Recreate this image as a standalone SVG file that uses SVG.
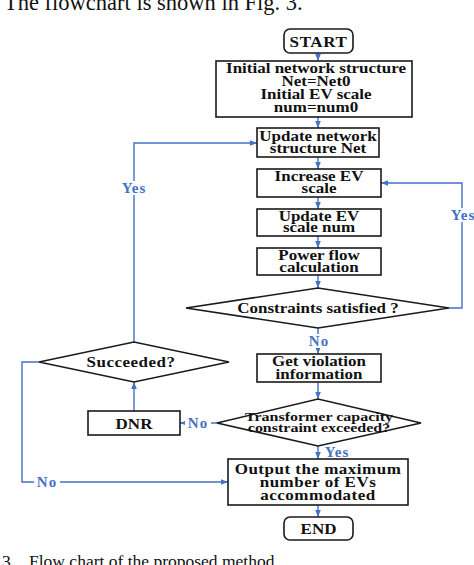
<svg xmlns="http://www.w3.org/2000/svg" width="474" height="565" viewBox="0 0 474 565">
<defs>
<style>
.box{fill:#fff;stroke:#1a1a1a;stroke-width:1.6}
.t{font-family:"Liberation Serif","Times New Roman",serif;font-weight:bold;font-size:17px;fill:#111;text-anchor:middle}
.t2{font-size:16px}
.lbl{font-family:"Liberation Serif","Times New Roman",serif;font-weight:bold;font-size:15px;fill:#4472C4;text-anchor:middle;letter-spacing:1px}
.bg{fill:#fff}
.c{fill:none;stroke:#4472C4;stroke-width:1.4}
.cap{font-family:"Liberation Serif","Times New Roman",serif;font-size:22.5px;fill:#111}
.cap2{font-size:17.5px}
</style>
<marker id="ah" viewBox="0 0 10 10" refX="10" refY="5" markerWidth="7" markerHeight="7" orient="auto" markerUnits="userSpaceOnUse">
<path d="M0,1 L10,5 L0,9 z" fill="#4472C4"/>
</marker>
</defs>
<rect width="474" height="565" fill="#fff"/>
<text class="cap" x="4" y="10">The flowchart is shown in Fig. 3.</text>
<text class="cap cap2" x="2" y="567">3</text>
<text class="cap cap2" x="29" y="567">Flow chart of the proposed method</text>

<g id="connectors">
<path class="c" d="M318,53 V61" marker-end="url(#ah)"/>
<path class="c" d="M318,117 V128" marker-end="url(#ah)"/>
<path class="c" d="M318,157 V169" marker-end="url(#ah)"/>
<path class="c" d="M318,197 V209" marker-end="url(#ah)"/>
<path class="c" d="M318,236 V248" marker-end="url(#ah)"/>
<path class="c" d="M318,275 V288" marker-end="url(#ah)"/>
<path class="c" d="M449,308 H462 V183 H381" marker-end="url(#ah)"/>
<path class="c" d="M318,328 V354" marker-end="url(#ah)"/>
<path class="c" d="M318,382 V399" marker-end="url(#ah)"/>
<path class="c" d="M217,423 H180" marker-end="url(#ah)"/>
<path class="c" d="M318,445 V459" marker-end="url(#ah)"/>
<path class="c" d="M134,411 V382" marker-end="url(#ah)"/>
<path class="c" d="M134,342 V143 H257" marker-end="url(#ah)"/>
<path class="c" d="M39,362 H22 V482 H228" marker-end="url(#ah)"/>
<path class="c" d="M318,505 V517" marker-end="url(#ah)"/>
<rect class="bg" x="116" y="181" width="35" height="14"/>
<text class="lbl" x="134" y="193">Yes</text>
<rect class="bg" x="445" y="208" width="35" height="14"/>
<text class="lbl" x="463" y="220">Yes</text>
<rect class="bg" x="305" y="334" width="26" height="14"/>
<text class="lbl" x="319" y="346">No</text>
<rect class="bg" x="185" y="417" width="26" height="13"/>
<text class="lbl" x="198" y="428">No</text>
<text class="lbl" x="337" y="457">Yes</text>
<rect class="bg" x="34" y="476" width="26" height="13"/>
<text class="lbl" x="47" y="487">No</text>
</g>

<g id="start">
<rect class="box" x="284" y="29" width="69" height="24" rx="6"/>
<text class="t" letter-spacing="0.6" transform="translate(318.5,47) scale(1,0.85)">START</text>
</g>
<g id="init">
<rect class="box" x="216" y="61" width="196" height="56"/>
<text class="t" transform="translate(316,73) scale(1,0.85)">Initial network structure</text>
<text class="t" transform="translate(316,86) scale(1,0.85)">Net=Net0</text>
<text class="t" transform="translate(316,99) scale(1,0.85)">Initial EV scale</text>
<text class="t" transform="translate(316,112) scale(1,0.85)">num=num0</text>
</g>
<g id="update-net">
<rect class="box" x="257" y="128" width="122" height="29"/>
<text class="t" transform="translate(318,141) scale(1,0.85)">Update network</text>
<text class="t" transform="translate(318,153) scale(1,0.85)">structure Net</text>
</g>
<g id="increase">
<rect class="box" x="257" y="169" width="124" height="28"/>
<text class="t" transform="translate(319,181) scale(1,0.85)">Increase EV</text>
<text class="t" transform="translate(319,193) scale(1,0.85)">scale</text>
</g>
<g id="update-ev">
<rect class="box" x="257" y="209" width="124" height="27"/>
<text class="t" transform="translate(319,221) scale(1,0.85)">Update EV</text>
<text class="t" transform="translate(319,232) scale(1,0.85)">scale num</text>
</g>
<g id="power-flow">
<rect class="box" x="257" y="248" width="124" height="27"/>
<text class="t" transform="translate(319,260) scale(1,0.85)">Power flow</text>
<text class="t" transform="translate(319,272) scale(1,0.85)">calculation</text>
</g>
<g id="constraints">
<polygon class="box" points="186,308 318,288 449,308 318,328"/>
<text class="t" transform="translate(318,313) scale(1,0.85)">Constraints satisfied ?</text>
</g>
<g id="violation">
<rect class="box" x="257" y="354" width="124" height="28"/>
<text class="t" transform="translate(319,366) scale(1,0.85)">Get violation</text>
<text class="t" transform="translate(319,379) scale(1,0.85)">information</text>
</g>
<g id="transformer">
<polygon class="box" points="217,423 318,399 421,423 318,446"/>
<text class="t t2" transform="translate(319,421) scale(1,0.8)">Transformer capacity</text>
<text class="t t2" transform="translate(319,432) scale(1,0.8)">constraint exceeded?</text>
</g>
<g id="dnr">
<rect class="box" x="88" y="411" width="92" height="24"/>
<text class="t" transform="translate(134,429) scale(1,0.85)">DNR</text>
</g>
<g id="succeeded">
<polygon class="box" points="39,362 134,342 229,362 134,382"/>
<text class="t" letter-spacing="0.5" transform="translate(131,367) scale(1,0.85)">Succeeded?</text>
</g>
<g id="output">
<rect class="box" x="228" y="459" width="180" height="46"/>
<text class="t" letter-spacing="0.5" transform="translate(318,474) scale(1,0.85)">Output the maximum</text>
<text class="t" letter-spacing="0.5" transform="translate(318,487) scale(1,0.85)">number of EVs</text>
<text class="t" letter-spacing="0.5" transform="translate(318,500) scale(1,0.85)">accommodated</text>
</g>
<g id="end">
<rect class="box" x="284" y="517" width="69" height="23" rx="6"/>
<text class="t" transform="translate(318.5,534) scale(1,0.85)">END</text>
</g>
</svg>
